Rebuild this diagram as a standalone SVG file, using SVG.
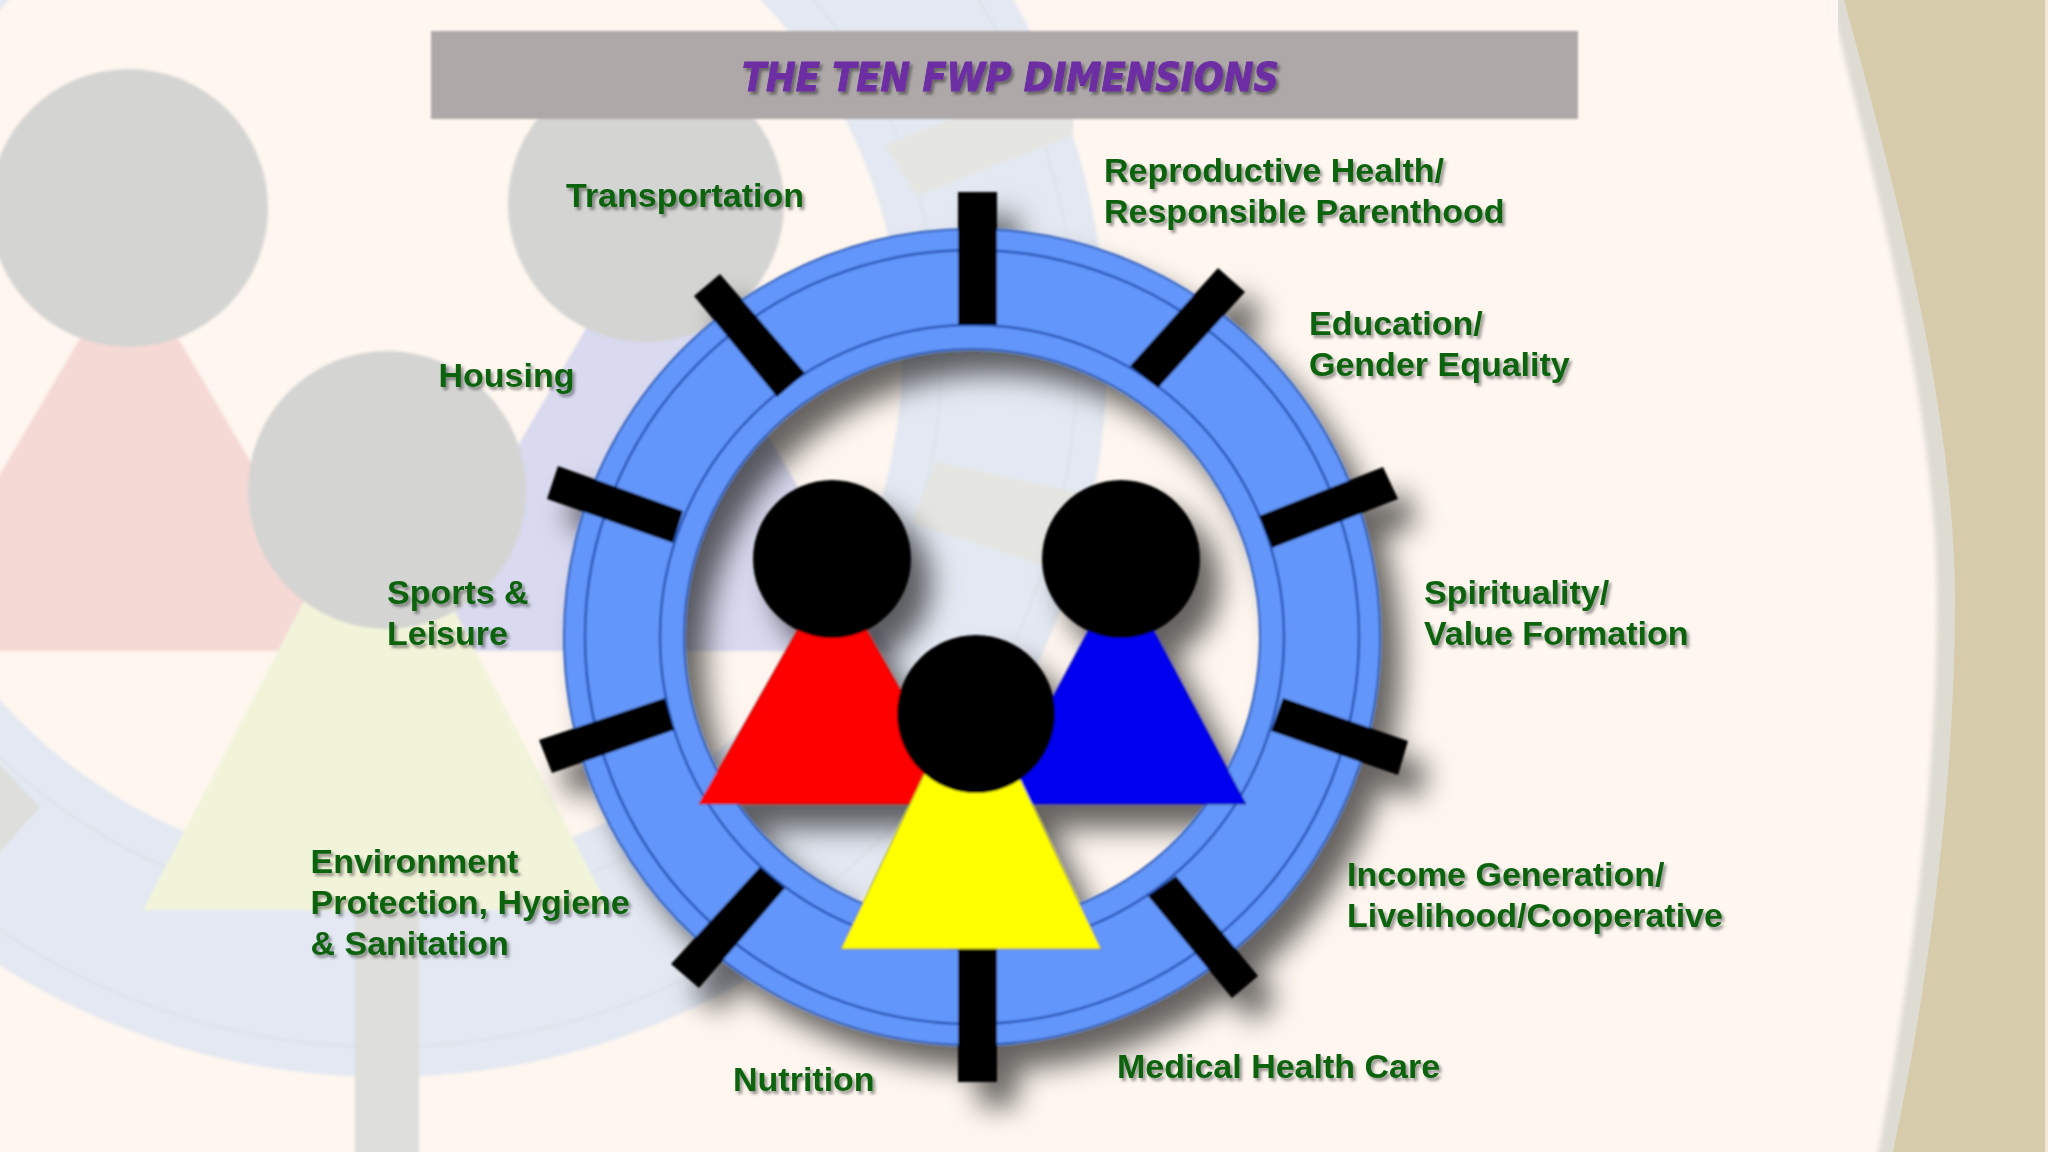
<svg xmlns="http://www.w3.org/2000/svg" width="2048" height="1152" viewBox="0 0 2048 1152">
<style>
.wb{fill:#dededa}
.wl{fill:#e5e5e1}
.lbl{font-family:"Liberation Sans",Arial,sans-serif;font-weight:700;font-size:34px;fill:#0a6210}
.ttl{font-family:"DejaVu Sans",sans-serif;font-weight:700;font-style:italic;font-size:39px;fill:#6c2fa2;stroke:#6c2fa2;stroke-width:1}
.spoke{fill:#000}
.head{fill:#000}
</style>
<defs>
<filter id="sh" x="-10%" y="-10%" width="130%" height="130%"><feGaussianBlur in="SourceGraphic" stdDeviation="0.8" result="b"/><feDropShadow in="b" dx="20" dy="24" stdDeviation="14" flood-color="#000" flood-opacity="0.6"/></filter>
<filter id="ts" x="-5%" y="-15%" width="110%" height="135%"><feGaussianBlur in="SourceGraphic" stdDeviation="0.4" result="b"/><feDropShadow in="b" dx="2.5" dy="3" stdDeviation="1.4" flood-color="#000" flood-opacity="0.4"/></filter>
<filter id="bs" x="-2%" y="-10%" width="104%" height="125%"><feGaussianBlur in="SourceGraphic" stdDeviation="1.2"/></filter>
<filter id="soft" x="-5%" y="-5%" width="110%" height="110%"><feGaussianBlur stdDeviation="2.5"/></filter>
<filter id="wm" x="-5%" y="-5%" width="110%" height="110%"><feGaussianBlur stdDeviation="1.5"/></filter>
</defs>
<rect width="2048" height="1152" fill="#fef6ef"/>
<g id="watermark" filter="url(#wm)">
<path d="M385,-367a722,722 0 1,0 .01,0zM385,-162a517,517 0 1,1 -.01,0z" fill="#e3e8f2" fill-rule="evenodd"/>
<circle cx="385" cy="355" r="692" fill="none" stroke="#dee3ec" stroke-width="3"/>
<circle cx="385" cy="355" r="557" fill="none" stroke="#dee3ec" stroke-width="3"/>
<polygon class="wl" points="1075,70 1073,135 917,196 885,145"/>
<polygon class="wl" points="936,462 1100,497 1090,580 912,523"/>
<polygon class="wb" points="-10,755 40,807 -30,885 -60,820"/>
<rect class="wb" x="355" y="900" width="64" height="260"/>
<polygon points="129,255 -104,651 362,651" fill="#f5d9d5"/>
<polygon points="646,225 399,651 893,651" fill="#d9d9ef"/>
<polygon points="362,490 392,490 610,910 143,910" fill="#f2f4da"/>
<circle cx="129" cy="208" r="139" fill="#d4d4d2"/>
<circle cx="646" cy="204" r="138" fill="#d4d4d2"/>
<circle cx="387" cy="490" r="139" fill="#d4d4d2"/>
</g>
<g id="side-panel">
<path d="M1844,-20 C1885,150 1955,400 1955,600 C1955,800 1925,1000 1893,1172" fill="none" stroke="#dedbd2" stroke-width="36" filter="url(#soft)"/>
<path d="M1844,0 C1885,150 1955,400 1955,600 C1955,800 1925,1000 1893,1152 L2048,1152 L2048,0Z" fill="#d6ccac"/>
<rect x="2045" y="0" width="3" height="1152" fill="#f3e8d8"/>
</g>
<g id="title">
<rect x="431" y="31" width="1147" height="88" fill="#aea9a8" filter="url(#bs)"/>
<text class="ttl" x="742" y="91" textLength="537" lengthAdjust="spacingAndGlyphs" filter="url(#ts)">THE TEN FWP DIMENSIONS</text>
</g>
<g id="emblem" filter="url(#sh)">
<g id="wheel">
<path d="M972,229a408,408 0 1,0 .01,0zM972,349a288,288 0 1,1 -.01,0z" fill="#6496fa" fill-rule="evenodd" stroke="#2f5cb8" stroke-width="2"/>
<circle cx="972" cy="637" r="387" fill="none" stroke="#2555b8" stroke-width="2.5"/>
<circle cx="972" cy="637" r="312" fill="none" stroke="#2555b8" stroke-width="2.5"/>
</g>
<g id="spokes">
<rect class="spoke" x="958" y="192" width="39" height="133"/>
<polygon class="spoke" points="1218,268 1245,292 1158,388 1130,366"/>
<polygon class="spoke" points="1383,467 1398,499 1272,548 1259,516"/>
<polygon class="spoke" points="1283,698 1408,741 1398,775 1271,731"/>
<polygon class="spoke" points="1176,876 1258,976 1232,998 1148,896"/>
<rect class="spoke" x="958" y="940" width="39" height="142"/>
<polygon class="spoke" points="760,867 785,888 699,988 671,964"/>
<polygon class="spoke" points="665,698 674,730 552,773 539,740"/>
<polygon class="spoke" points="558,466 547,499 673,543 683,511"/>
<polygon class="spoke" points="720,274 694,296 777,397 805,373"/>
</g>
<g id="figure-red"><polygon points="832,569 699,804 965,804" fill="#ff0000" stroke="#8a2020" stroke-width="1"/><circle class="head" cx="832" cy="559" r="79"/></g>
<g id="figure-blue"><polygon points="1121,569 996,804 1246,804" fill="#0000f0" stroke="#202080" stroke-width="1"/><circle class="head" cx="1121" cy="559" r="79"/></g>
<g id="figure-yellow"><polygon points="971,676 841,949 1101,949" fill="#ffff00" stroke="#8a8a30" stroke-width="1"/><circle class="head" cx="976" cy="714" r="79"/></g>
</g>
<g id="labels" filter="url(#ts)">
<g id="label-reproductive"><text class="lbl" x="1104" y="181.5">Reproductive Health/</text><text class="lbl" x="1104" y="222.5">Responsible Parenthood</text></g>
<g id="label-education"><text class="lbl" x="1309" y="335">Education/</text><text class="lbl" x="1309" y="376">Gender Equality</text></g>
<g id="label-spirituality"><text class="lbl" x="1424" y="604">Spirituality/</text><text class="lbl" x="1424" y="645">Value Formation</text></g>
<g id="label-income"><text class="lbl" x="1347" y="885.5">Income Generation/</text><text class="lbl" x="1347" y="926.5">Livelihood/Cooperative</text></g>
<g id="label-medical"><text class="lbl" x="1117" y="1078">Medical Health Care</text></g>
<g id="label-nutrition"><text class="lbl" x="733" y="1091">Nutrition</text></g>
<g id="label-environment"><text class="lbl" x="310.500" y="873">Environment</text><text class="lbl" x="310.500" y="914">Protection, Hygiene</text><text class="lbl" x="310.500" y="955">&amp; Sanitation</text></g>
<g id="label-sports"><text class="lbl" x="387" y="604">Sports &amp;</text><text class="lbl" x="387" y="645">Leisure</text></g>
<g id="label-housing"><text class="lbl" x="438.500" y="387">Housing</text></g>
<g id="label-transportation"><text class="lbl" x="566" y="207">Transportation</text></g>
</g>
</svg>
